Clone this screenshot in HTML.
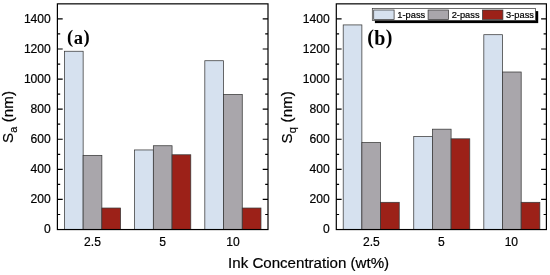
<!DOCTYPE html>
<html><head><meta charset="utf-8"><title>chart</title>
<style>
html,body{margin:0;padding:0;background:#fff;}
svg{display:block}
.t{font-family:"Liberation Sans",Arial,sans-serif;font-size:12.1px;fill:#000;stroke:#000;stroke-width:0.2px}
.ax{font-family:"Liberation Sans",Arial,sans-serif;font-size:15.1px;fill:#000;stroke:#000;stroke-width:0.2px}
.lg{font-family:"Liberation Sans",Arial,sans-serif;font-size:9.3px;fill:#000;stroke:#000;stroke-width:0.2px}
.lab{font-family:"Liberation Serif",serif;font-weight:bold;fill:#000}
</style></head><body>
<svg width="550" height="275" viewBox="0 0 550 275">
<rect width="550" height="275" fill="#fff"/>
<rect x="64.42" y="51.25" width="18.72" height="178.30" fill="#D6E1EF" stroke="#383838" stroke-width="0.75"/>
<rect x="83.14" y="155.37" width="18.72" height="74.18" fill="#A9A6AB" stroke="#383838" stroke-width="0.75"/>
<rect x="101.86" y="208.03" width="18.72" height="21.52" fill="#9C2118" stroke="#383838" stroke-width="0.75"/>
<rect x="134.62" y="149.95" width="18.72" height="79.60" fill="#D6E1EF" stroke="#383838" stroke-width="0.75"/>
<rect x="153.34" y="145.74" width="18.72" height="83.81" fill="#A9A6AB" stroke="#383838" stroke-width="0.75"/>
<rect x="172.06" y="154.77" width="18.72" height="74.78" fill="#9C2118" stroke="#383838" stroke-width="0.75"/>
<rect x="204.82" y="60.73" width="18.72" height="168.82" fill="#D6E1EF" stroke="#383838" stroke-width="0.75"/>
<rect x="223.54" y="94.43" width="18.72" height="135.12" fill="#A9A6AB" stroke="#383838" stroke-width="0.75"/>
<rect x="242.26" y="208.03" width="18.72" height="21.52" fill="#9C2118" stroke="#383838" stroke-width="0.75"/>
<rect x="57.40" y="3.85" width="210.60" height="225.70" fill="none" stroke="#000" stroke-width="1.2"/>
<path d="M57.40 214.50h2.8M268.00 214.50h-2.8" stroke="#000" stroke-width="1.2"/>
<path d="M57.40 199.46h5.3M268.00 199.46h-5.3" stroke="#000" stroke-width="1.2"/>
<path d="M57.40 184.41h2.8M268.00 184.41h-2.8" stroke="#000" stroke-width="1.2"/>
<path d="M57.40 169.36h5.3M268.00 169.36h-5.3" stroke="#000" stroke-width="1.2"/>
<path d="M57.40 154.32h2.8M268.00 154.32h-2.8" stroke="#000" stroke-width="1.2"/>
<path d="M57.40 139.27h5.3M268.00 139.27h-5.3" stroke="#000" stroke-width="1.2"/>
<path d="M57.40 124.22h2.8M268.00 124.22h-2.8" stroke="#000" stroke-width="1.2"/>
<path d="M57.40 109.18h5.3M268.00 109.18h-5.3" stroke="#000" stroke-width="1.2"/>
<path d="M57.40 94.13h2.8M268.00 94.13h-2.8" stroke="#000" stroke-width="1.2"/>
<path d="M57.40 79.08h5.3M268.00 79.08h-5.3" stroke="#000" stroke-width="1.2"/>
<path d="M57.40 64.04h2.8M268.00 64.04h-2.8" stroke="#000" stroke-width="1.2"/>
<path d="M57.40 48.99h5.3M268.00 48.99h-5.3" stroke="#000" stroke-width="1.2"/>
<path d="M57.40 33.94h2.8M268.00 33.94h-2.8" stroke="#000" stroke-width="1.2"/>
<path d="M57.40 18.90h5.3M268.00 18.90h-5.3" stroke="#000" stroke-width="1.2"/>
<text x="50.80" y="233.45" text-anchor="end" class="t">0</text>
<text x="50.80" y="203.36" text-anchor="end" class="t">200</text>
<text x="50.80" y="173.26" text-anchor="end" class="t">400</text>
<text x="50.80" y="143.17" text-anchor="end" class="t">600</text>
<text x="50.80" y="113.08" text-anchor="end" class="t">800</text>
<text x="50.80" y="82.98" text-anchor="end" class="t">1000</text>
<text x="50.80" y="52.89" text-anchor="end" class="t">1200</text>
<text x="50.80" y="22.80" text-anchor="end" class="t">1400</text>
<text x="92.50" y="246" text-anchor="middle" class="t">2.5</text>
<text x="162.70" y="246" text-anchor="middle" class="t">5</text>
<text x="232.90" y="246" text-anchor="middle" class="t">10</text>
<text x="67.1" y="44.2" class="lab" font-size="18.5" letter-spacing="0.5"><tspan dy="-1">(</tspan><tspan dy="1">a</tspan><tspan dy="-1">)</tspan></text>
<text transform="translate(13.0,116.9) rotate(-90)" text-anchor="middle" class="ax" font-size="15.6" letter-spacing="0.12">S<tspan dy="3.9" font-size="10.8">a</tspan><tspan dy="-3.9"> (nm)</tspan></text>
<rect x="343.20" y="24.92" width="18.68" height="204.63" fill="#D6E1EF" stroke="#383838" stroke-width="0.75"/>
<rect x="361.88" y="142.58" width="18.68" height="86.97" fill="#A9A6AB" stroke="#383838" stroke-width="0.75"/>
<rect x="380.55" y="202.32" width="18.68" height="27.23" fill="#9C2118" stroke="#383838" stroke-width="0.75"/>
<rect x="413.74" y="136.56" width="18.68" height="92.99" fill="#D6E1EF" stroke="#383838" stroke-width="0.75"/>
<rect x="432.41" y="129.19" width="18.68" height="100.36" fill="#A9A6AB" stroke="#383838" stroke-width="0.75"/>
<rect x="451.09" y="138.82" width="18.68" height="90.73" fill="#9C2118" stroke="#383838" stroke-width="0.75"/>
<rect x="483.82" y="34.70" width="18.68" height="194.85" fill="#D6E1EF" stroke="#383838" stroke-width="0.75"/>
<rect x="502.50" y="72.01" width="18.68" height="157.54" fill="#A9A6AB" stroke="#383838" stroke-width="0.75"/>
<rect x="521.17" y="202.32" width="18.68" height="27.23" fill="#9C2118" stroke="#383838" stroke-width="0.75"/>
<rect x="336.30" y="3.85" width="210.10" height="225.70" fill="none" stroke="#000" stroke-width="1.2"/>
<path d="M336.30 214.50h2.8M546.40 214.50h-2.8" stroke="#000" stroke-width="1.2"/>
<path d="M336.30 199.46h5.3M546.40 199.46h-5.3" stroke="#000" stroke-width="1.2"/>
<path d="M336.30 184.41h2.8M546.40 184.41h-2.8" stroke="#000" stroke-width="1.2"/>
<path d="M336.30 169.36h5.3M546.40 169.36h-5.3" stroke="#000" stroke-width="1.2"/>
<path d="M336.30 154.32h2.8M546.40 154.32h-2.8" stroke="#000" stroke-width="1.2"/>
<path d="M336.30 139.27h5.3M546.40 139.27h-5.3" stroke="#000" stroke-width="1.2"/>
<path d="M336.30 124.22h2.8M546.40 124.22h-2.8" stroke="#000" stroke-width="1.2"/>
<path d="M336.30 109.18h5.3M546.40 109.18h-5.3" stroke="#000" stroke-width="1.2"/>
<path d="M336.30 94.13h2.8M546.40 94.13h-2.8" stroke="#000" stroke-width="1.2"/>
<path d="M336.30 79.08h5.3M546.40 79.08h-5.3" stroke="#000" stroke-width="1.2"/>
<path d="M336.30 64.04h2.8M546.40 64.04h-2.8" stroke="#000" stroke-width="1.2"/>
<path d="M336.30 48.99h5.3M546.40 48.99h-5.3" stroke="#000" stroke-width="1.2"/>
<path d="M336.30 33.94h2.8M546.40 33.94h-2.8" stroke="#000" stroke-width="1.2"/>
<path d="M336.30 18.90h5.3M546.40 18.90h-5.3" stroke="#000" stroke-width="1.2"/>
<text x="329.70" y="233.45" text-anchor="end" class="t">0</text>
<text x="329.70" y="203.36" text-anchor="end" class="t">200</text>
<text x="329.70" y="173.26" text-anchor="end" class="t">400</text>
<text x="329.70" y="143.17" text-anchor="end" class="t">600</text>
<text x="329.70" y="113.08" text-anchor="end" class="t">800</text>
<text x="329.70" y="82.98" text-anchor="end" class="t">1000</text>
<text x="329.70" y="52.89" text-anchor="end" class="t">1200</text>
<text x="329.70" y="22.80" text-anchor="end" class="t">1400</text>
<text x="371.32" y="246" text-anchor="middle" class="t">2.5</text>
<text x="441.35" y="246" text-anchor="middle" class="t">5</text>
<text x="511.38" y="246" text-anchor="middle" class="t">10</text>
<text x="367.3" y="44.6" class="lab" font-size="20" letter-spacing="0.3"><tspan dy="-1">(</tspan><tspan dy="1">b</tspan><tspan dy="-1">)</tspan></text>
<text transform="translate(292.0,117.2) rotate(-90)" text-anchor="middle" class="ax" font-size="15.6" letter-spacing="0.12">S<tspan dy="3.9" font-size="11.3">q</tspan><tspan dy="-3.9"> (nm)</tspan></text>
<rect x="374.90000000000003" y="11.1" width="163.3" height="12.0" fill="#000"/>
<rect x="372.3" y="8.5" width="163.3" height="12.0" fill="#fff" stroke="#333" stroke-width="0.7"/>
<rect x="373.70" y="10" width="20.4" height="9.4" fill="#D6E1EF" stroke="#383838" stroke-width="0.75"/>
<text x="397.30" y="18.3" class="lg">1-pass</text>
<rect x="428.10" y="10" width="20.4" height="9.4" fill="#A9A6AB" stroke="#383838" stroke-width="0.75"/>
<text x="451.70" y="18.3" class="lg">2-pass</text>
<rect x="482.50" y="10" width="20.4" height="9.4" fill="#9C2118" stroke="#383838" stroke-width="0.75"/>
<text x="506.10" y="18.3" class="lg">3-pass</text>
<text x="308.6" y="268.3" text-anchor="middle" class="ax" font-size="15.3">Ink Concentration (wt%)</text>
</svg>
</body></html>
